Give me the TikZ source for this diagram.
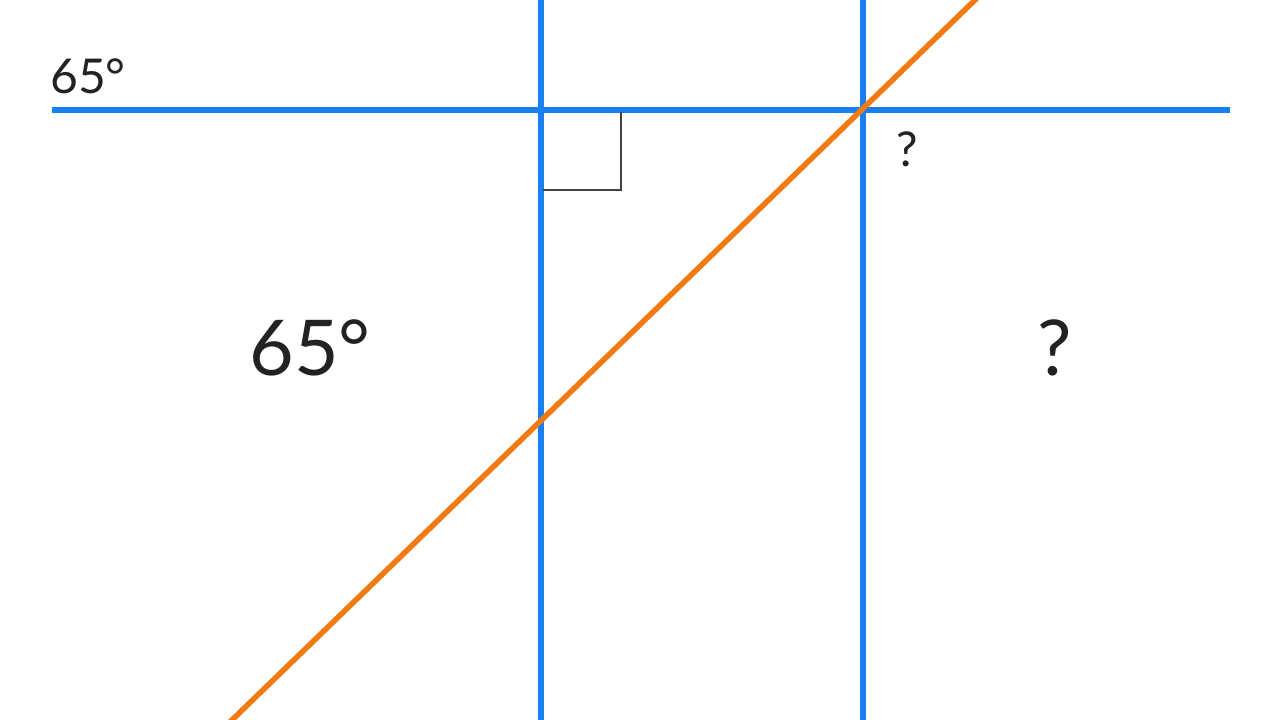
\documentclass[tikz,border=0pt]{standalone}
\usepackage{fontspec}
\setmainfont{Lato}
\usetikzlibrary{calc}
\definecolor{lineblue}{HTML}{1A7FF0}
\definecolor{lineorange}{HTML}{F27A12}
\definecolor{txt}{HTML}{222222}
\begin{document}
\begin{tikzpicture}[x=1pt,y=-1pt,
  blueline/.style={lineblue,line width=5.5pt},
  orangeline/.style={lineorange,line width=5.5pt},
  rightmark/.style={txt!85,line width=2pt},
  smalllabel/.style={anchor=base,inner sep=0pt,text=txt,font=\fontsize{48}{48}\selectfont},
  biglabel/.style={anchor=base,inner sep=0pt,text=txt,font=\fontsize{77}{77}\selectfont}]
\path[use as bounding box] (0,0) rectangle (1280,720);
% coordinates
\coordinate (hL) at (52,110);
\coordinate (hR) at (1230,110);
\coordinate (v1T) at (541,-5);
\coordinate (v1B) at (541,725);
\coordinate (v2T) at (863,-5);
\coordinate (v2B) at (863,725);
\coordinate (oB) at (232,720);
\coordinate (oT) at (975,0);
\coordinate (r2) at (621,112);
\coordinate (r3) at (621,190);
\coordinate (r4) at (543,190);
% lines
\draw[blueline] (v1T) -- (v1B);
\draw[blueline] (v2T) -- (v2B);
\draw[blueline] (hL) -- (hR);
\draw[orangeline] ($(oB)!-0.02!(oT)$) -- ($(oT)!-0.02!(oB)$);
\draw[rightmark] (r2) -- (r3) -- (r4);
% labels
\node[smalllabel] (a1) at (88,93) {65°};
\node[biglabel] (a2) at (310,375) {65°};
\node[smalllabel] (q1) at (907,166) {?};
\node[biglabel] (q2) at (1055,375) {?};
\end{tikzpicture}
\end{document}
